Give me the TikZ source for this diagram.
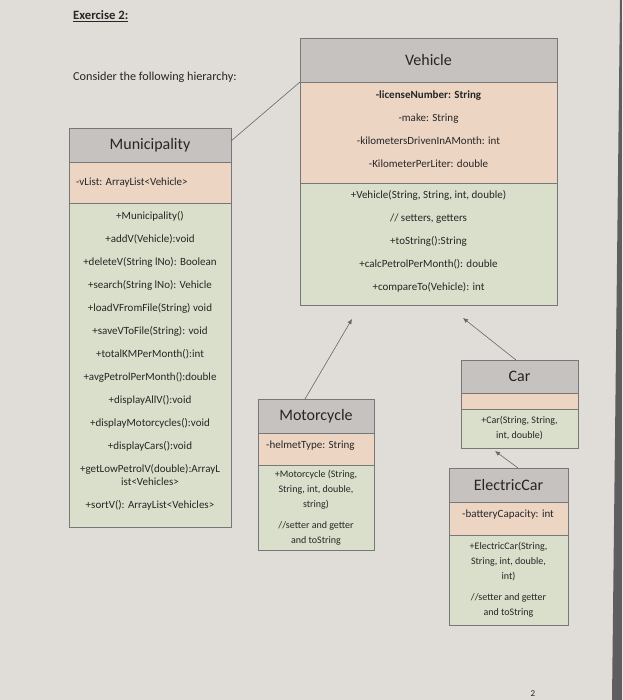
\documentclass[tikz,border=0pt]{standalone}
\usepackage{fontspec}
\setmainfont{Carlito}
\usetikzlibrary{arrows.meta,calc}
\definecolor{pagebg}{HTML}{E0DDD8}
\definecolor{edgedark}{HTML}{5E5E5E}
\definecolor{hdrc}{HTML}{C6C2C0}
\definecolor{attrc}{HTML}{EDD5C4}
\definecolor{methc}{HTML}{D9DFCA}
\definecolor{boxline}{HTML}{777777}
\definecolor{txt}{HTML}{262626}
\definecolor{arrowc}{HTML}{666666}
\begin{document}
\begin{tikzpicture}[x=1pt,y=-1pt,
  box/.style={draw=boxline, line width=0.7pt, inner sep=0pt, outer sep=0pt, text=txt},
  hdr/.style={box, fill=hdrc, font=\fontsize{16}{19}\selectfont},
  attr/.style={box, fill=attrc, align=center, font=\fontsize{11}{13}\selectfont},
  meth/.style={box, fill=methc, align=center, font=\fontsize{11}{13}\selectfont},
  small/.style={font=\fontsize{10}{15}\selectfont},
  lbl/.style={text=txt, inner sep=0pt, anchor=west},
  assoc/.style={draw=arrowc, line width=0.6pt},
  inh/.style={draw=arrowc, line width=0.6pt, -{Latex[length=5pt,width=4.5pt]}}
]
\fill[pagebg] (0,0) rectangle (622,700);
\fill[edgedark] (620,0) -- (622,0) -- (622,700) -- (612,700) -- cycle;
\useasboundingbox (0,0) rectangle (622,700);

% heading texts
\node[lbl, anchor=base west, font=\bfseries\fontsize{12.7}{15}\selectfont] (title) at (73,20) {\underline{Exercise 2:}};
\node[lbl, anchor=base west, font=\fontsize{12.2}{14}\selectfont] (intro) at (73,81) {Consider the following hierarchy:};
\node[lbl, anchor=center, font=\fontsize{9}{11}\selectfont] (pagenum) at (533,694) {2};

% Vehicle
\node[hdr, minimum width=257, minimum height=44] (vh) at (428.5,60) {Vehicle};
\node[attr, minimum width=257, minimum height=101] (va) at (428.5,132.5)
  {\textbf{-licenseNumber: String}\\[10pt] -make: String\\[10pt] -kilometersDrivenInAMonth: int\\[10pt] -KilometerPerLiter: double\\[-6pt]\mbox{}};
\node[meth, minimum width=257, minimum height=122] (vm) at (428.5,244)
  {+Vehicle(String, String, int, double)\\[10pt] // setters, getters\\[10pt] +toString():String\\[10pt] +calcPetrolPerMonth(): double\\[10pt] +compareTo(Vehicle): int\\[-6pt]\mbox{}};

% Municipality
\node[hdr, minimum width=162, minimum height=34] (muh) at (150,145) {Municipality};
\node[attr, minimum width=162, minimum height=41] (mua) at (150,182.5) {};
\node[lbl, font=\fontsize{11}{13}\selectfont] (muat) at ([xshift=7pt]mua.west) {-vList: ArrayList<Vehicle>};
\node[meth, minimum width=162, minimum height=324] (mum) at (150,365)
  {+Municipality()\\[10pt] +addV(Vehicle):void\\[10pt] +deleteV(String lNo): Boolean\\[10pt] +search(String lNo): Vehicle\\[10pt]
   +loadVFromFile(String) void\\[10pt] +saveVToFile(String): void\\[10pt] +totalKMPerMonth():int\\[10pt]
   +avgPetrolPerMonth():double\\[10pt] +displayAllV():void\\[10pt] +displayMotorcycles():void\\[10pt]
   +displayCars():void\\[10pt] +getLowPetrolV(double):ArrayL\\ ist<Vehicles>\\[10pt] +sortV(): ArrayList<Vehicles>\\[-3pt]\mbox{}};

% Motorcycle
\node[hdr, minimum width=116, minimum height=34] (moh) at (316,416) {Motorcycle};
\node[attr, minimum width=116, minimum height=32] (moa) at (316,449) {};
\node[lbl, font=\fontsize{11}{13}\selectfont] (moat) at ([xshift=8pt,yshift=3pt]moa.west) {-helmetType: String};
\node[meth, small, minimum width=116, minimum height=85] (mom) at (316,507.5)
  {+Motorcycle (String,\\ String, int, double,\\ string)\\[6pt] //setter and getter\\ and toString};

% Car
\node[hdr, minimum width=117, minimum height=33] (ch) at (519.5,376.5) {Car};
\node[attr, minimum width=117, minimum height=16] (ca) at (519.5,401) {};
\node[meth, small, minimum width=117, minimum height=39] (cm) at (519.5,428.5)
  {+Car(String, String,\\ int, double)};

% ElectricCar
\node[hdr, minimum width=119, minimum height=34] (eh) at (508.5,485) {ElectricCar};
\node[attr, minimum width=119, minimum height=33] (ea) at (508.5,518.5) {};
\node[lbl, font=\fontsize{11}{13}\selectfont] (eat) at ([xshift=13pt,yshift=4pt]ea.west) {-batteryCapacity: int};
\node[meth, small, minimum width=119, minimum height=90] (em) at (508.5,580)
  {+ElectricCar(String,\\ String, int, double,\\ int)\\[6pt] //setter and getter\\ and toString};

% connectors
\coordinate (motip) at (352,319);
\coordinate (ctip) at (463,318);
\coordinate (etip) at (495,451);
\draw[assoc] ([yshift=4pt]muh.east) -- (vh.south west);
\draw[inh] ([xshift=-11pt]moh.north) -- (motip);
\draw[inh] ([xshift=-3.5pt]ch.north) -- (ctip);
\draw[inh] ([xshift=9.5pt]eh.north) -- (etip);
\end{tikzpicture}
\end{document}
